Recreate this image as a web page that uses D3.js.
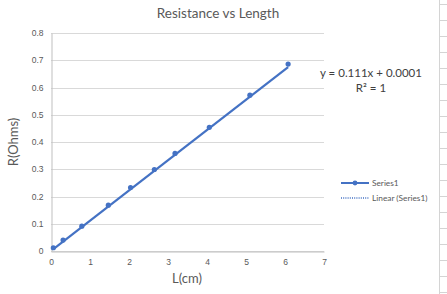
<!DOCTYPE html>
<html>
<head>
<meta charset="utf-8">
<script src="https://cdn.jsdelivr.net/npm/d3@7"></script>
<style>
  body { margin: 0; background: #fff; }
  svg { display: block; font-family: Lato, "Open Sans", sans-serif; }
</style>
</head>
<body>
<div id="chart"></div>
<script>
// measured length (cm) and resistance (ohms)
const lengths = [0.06, 0.31, 0.79, 1.47, 2.04, 2.65, 3.18, 4.06, 5.10, 6.08];
const resistances = [0.012, 0.040, 0.091, 0.168, 0.233, 0.299, 0.358, 0.454, 0.572, 0.686];
const xTicks = [0, 1, 2, 3, 4, 5, 6, 7];
const yTicks = [0, 0.1, 0.2, 0.3, 0.4, 0.5, 0.6, 0.7, 0.8];
const slope = 0.111, intercept = 0.0001;

const width = 447, height = 294;
const blue = "#4472C4";

const svg = d3.select("#chart").append("svg")
  .attr("width", width)
  .attr("height", height);

// spreadsheet cell lines on the right edge
svg.append("line")
  .attr("x1", 439.5).attr("x2", 439.5)
  .attr("y1", 0).attr("y2", height)
  .attr("stroke", "#d4d4d4");
for (let y = 4; y < height; y += 16) {
  svg.append("line")
    .attr("x1", 440).attr("x2", width)
    .attr("y1", y + 0.5).attr("y2", y + 0.5)
    .attr("stroke", "#d4d4d4");
}

const x = d3.scaleLinear().domain([0, 7]).range([51, 324]);
const y = d3.scaleLinear().domain([0, 0.8]).range([251, 33]);

// gridlines
svg.append("g")
  .selectAll("line")
  .data(yTicks)
  .enter()
  .append("line")
  .attr("x1", x(0)).attr("x2", x(7))
  .attr("y1", d => Math.round(y(d)) + 0.5)
  .attr("y2", d => Math.round(y(d)) + 0.5)
  .attr("stroke", "#d9d9d9");

// x axis
const xAxis = svg.append("g")
  .attr("transform", `translate(0, ${Math.round(y(0)) + 0.5})`)
  .call(d3.axisBottom(x).tickValues(xTicks).tickSize(0).tickPadding(7).tickFormat(d3.format("d")));
xAxis.select(".domain").attr("stroke", "#bfbfbf");
xAxis.selectAll("text").attr("fill", "#595959").style("font-size", "8.5px");

// y axis
const yAxis = svg.append("g")
  .attr("transform", `translate(${Math.round(x(0)) + 0.5}, 0)`)
  .call(d3.axisLeft(y).tickValues(yTicks).tickSize(0).tickPadding(8).tickFormat(d => d === 0 ? "0" : d3.format(".1f")(d)));
yAxis.select(".domain").attr("stroke", "#bfbfbf");
yAxis.selectAll("text").attr("fill", "#595959").style("font-size", "8.5px");

// trendline
const xMin = d3.min(lengths), xMax = d3.max(lengths);
svg.append("line")
  .attr("x1", x(xMin)).attr("y1", y(slope * xMin + intercept))
  .attr("x2", x(xMax)).attr("y2", y(slope * xMax + intercept))
  .attr("stroke", blue)
  .attr("stroke-width", 2.2);

// points
svg.selectAll("circle.pt")
  .data(lengths)
  .enter()
  .append("circle")
  .attr("class", "pt")
  .attr("cx", d => x(d))
  .attr("cy", (d, i) => y(resistances[i]))
  .attr("r", 2.6)
  .attr("fill", blue);

// title
svg.append("text")
  .attr("x", 218)
  .attr("y", 18)
  .attr("text-anchor", "middle")
  .attr("fill", "#595959")
  .style("font-size", "13.5px")
  .text("Resistance vs Length");

// axis titles
svg.append("text")
  .attr("x", 187)
  .attr("y", 283)
  .attr("text-anchor", "middle")
  .attr("fill", "#595959")
  .style("font-size", "13px")
  .text("L(cm)");

svg.append("text")
  .attr("transform", "rotate(-90)")
  .attr("x", -142)
  .attr("y", 18)
  .attr("text-anchor", "middle")
  .attr("fill", "#595959")
  .style("font-size", "13px")
  .text("R(Ohms)");

// trendline equation
svg.append("text")
  .attr("x", 371)
  .attr("y", 77)
  .attr("text-anchor", "middle")
  .attr("fill", "#404040")
  .style("font-size", "11.5px")
  .text(`y = ${slope}x + ${intercept}`);
svg.append("text")
  .attr("x", 371)
  .attr("y", 92)
  .attr("text-anchor", "middle")
  .attr("fill", "#404040")
  .style("font-size", "11.5px")
  .text("R² = 1");

// legend
const legend = svg.append("g").attr("transform", "translate(341, 183)");
legend.append("line")
  .attr("x1", 0).attr("x2", 28)
  .attr("stroke", blue).attr("stroke-width", 2);
legend.append("circle")
  .attr("cx", 14).attr("r", 2.4).attr("fill", blue);
legend.append("text")
  .attr("x", 31).attr("y", 3)
  .attr("fill", "#595959")
  .style("font-size", "8.3px")
  .text("Series1");
legend.append("line")
  .attr("x1", 0).attr("x2", 28)
  .attr("y1", 15).attr("y2", 15)
  .attr("stroke", blue).attr("stroke-width", 1.3)
  .attr("stroke-dasharray", "1,1.2");
legend.append("text")
  .attr("x", 31).attr("y", 18)
  .attr("fill", "#595959")
  .style("font-size", "8.3px")
  .text("Linear (Series1)");
</script>
</body>
</html>
